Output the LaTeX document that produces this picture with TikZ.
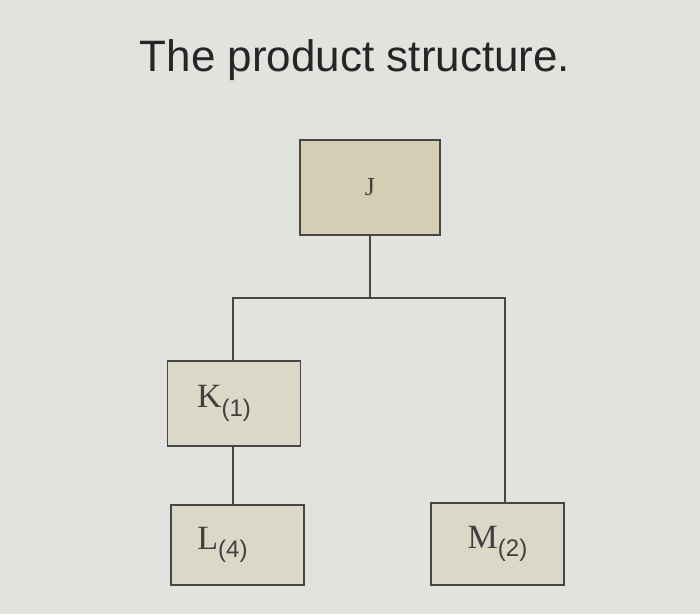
\documentclass[tikz,border=0pt]{standalone}
\usepackage{fontspec}
\setmainfont{Liberation Serif}
\newfontfamily\sansf{Liberation Sans}
\definecolor{bg}{RGB}{226,226,222}
\definecolor{boxfill}{RGB}{214,206,180}
\definecolor{boxfilltwo}{RGB}{220,216,200}
\definecolor{edge}{RGB}{70,70,70}
\tikzset{
  partbox/.style={draw=edge, line width=1.6pt, fill=boxfill, minimum width=133pt, minimum height=85pt, inner sep=0pt, font=\fontsize{34}{36}\selectfont, text=black!75},
  link/.style={draw=edge, line width=1.6pt}
}
\newcommand{\sub}[1]{\raisebox{-0.25em}{\sansf\fontsize{24}{26}\selectfont #1}}
\begin{document}
\begin{tikzpicture}[x=1pt,y=1pt]
\fill[bg] (0,0) rectangle (700,614);
\useasboundingbox (0,0) rectangle (700,614);
\node[font=\sansf\fontsize{44}{48}\selectfont, text=black!85] (title) at (355,554) {The product structure.};
\node[partbox, minimum width=140pt, minimum height=95pt, font=\fontsize{26}{28}\selectfont] (J) at (370,426.5) {J};
\node[partbox, fill=boxfilltwo] (K) at (234,210.5) {\hspace*{-20pt}K\sub{(1)}};
\node[partbox, fill=boxfilltwo, minimum height=80pt] (L) at (237.5,69) {\hspace*{-30pt}L\sub{(4)}};
\node[partbox, fill=boxfilltwo, minimum height=82pt] (M) at (497.5,70) {M\sub{(2)}};
\coordinate (bus) at (370,316);
\draw[link] (J.south) -- (bus);
\draw[link] (K.north -| 233,0) |- (bus) -| (505,0 |- M.north);
\draw[link] (233,0 |- K.south) -- (233,0 |- L.north);
\end{tikzpicture}
\end{document}
